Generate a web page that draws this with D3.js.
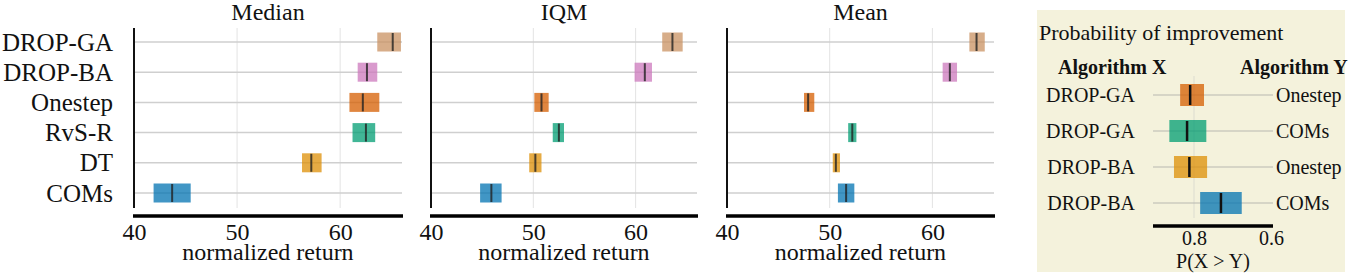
<!DOCTYPE html>
<html lang="en">
<head>
    <meta charset="UTF-8">
    <title>Aggregate metrics</title>
    <script src="https://cdn.jsdelivr.net/npm/d3@7"></script>
    <style>
        body { margin: 0; background: #fff; }
        svg text { font-family: "Liberation Serif", "Times New Roman", serif; fill: #111; }
    </style>
</head>
<body>
<script>
    // algorithms, top to bottom
    const algos = ['DROP-GA', 'DROP-BA', 'Onestep', 'RvS-R', 'DT', 'COMs']
    const algoColors = ['#ca9161', '#cc78bc', '#d55e00', '#029e73', '#de8f05', '#0173b2']
    // [low, high, point] per algorithm
    const medianVals = [[63.6, 65.9, 65.1], [61.7, 63.6, 62.6], [60.9, 63.8, 62.2], [61.2, 63.4, 62.5], [56.3, 58.2, 57.2], [41.9, 45.5, 43.7]]
    const iqmVals = [[62.6, 64.6, 63.6], [59.9, 61.6, 60.9], [50.1, 51.5, 50.8], [51.9, 53.0, 52.5], [49.6, 50.8, 50.2], [44.8, 46.9, 45.9]]
    const meanVals = [[63.6, 65.1, 64.3], [61.0, 62.4, 61.7], [47.5, 48.5, 47.9], [51.8, 52.6, 52.2], [50.3, 51.0, 50.6], [50.8, 52.4, 51.6]]
    const metricNames = ['Median', 'IQM', 'Mean']
    const xTicks = [40, 50, 60]

    // probability of improvement
    const pairX = ['DROP-GA', 'DROP-GA', 'DROP-BA', 'DROP-BA']
    const pairY = ['Onestep', 'COMs', 'Onestep', 'COMs']
    const pairColors = ['#d55e00', '#029e73', '#de8f05', '#0173b2']
    const probVals = [[0.782, 0.813, 0.795], [0.768, 0.816, 0.791], [0.774, 0.817, 0.794], [0.808, 0.862, 0.835]]
    const probTicks = [0.8, 0.9]
    const probTickLabels = ['0.8', '0.6']

    const [width, height] = [1349, 276]
    const serif = '"Liberation Serif", "Times New Roman", serif'
    const svg = d3.select('body').append('svg').attr('width', width).attr('height', height)
        .attr('font-family', serif)

    const panels = [[134, 402], [431, 697], [727, 994]]
    const y = d3.scalePoint().domain(algos).range([42, 193])
    const allVals = [medianVals, iqmVals, meanVals]

    panels.forEach((p, i) => {
        const x = d3.scaleLinear().domain([40, 66]).range(p)
        const g = svg.append('g')
        // vertical grid
        g.selectAll('line.vg').data(xTicks.slice(1)).enter().append('line')
            .attr('x1', d => x(d)).attr('x2', d => x(d))
            .attr('y1', 28).attr('y2', 208)
            .attr('stroke', '#e3e3e3').attr('stroke-width', 1)
        // row lines
        g.selectAll('line.hg').data(algos).enter().append('line')
            .attr('x1', p[0]).attr('x2', p[1])
            .attr('y1', d => y(d)).attr('y2', d => y(d))
            .attr('stroke', '#cfcfcf').attr('stroke-width', 1.5)
        const vals = allVals[i]
        g.selectAll('rect.box').data(vals).enter().append('rect')
            .attr('x', d => x(d[0])).attr('width', d => x(d[1]) - x(d[0]))
            .attr('y', (d, j) => y(algos[j]) - 9.5).attr('height', 19)
            .attr('fill', (d, j) => algoColors[j]).attr('fill-opacity', 0.75)
        g.selectAll('line.pt').data(vals).enter().append('line')
            .attr('x1', d => x(d[2])).attr('x2', d => x(d[2]))
            .attr('y1', (d, j) => y(algos[j]) - 9).attr('y2', (d, j) => y(algos[j]) + 9)
            .attr('stroke', '#222').attr('stroke-opacity', 0.8).attr('stroke-width', 2)
        // y axis line
        g.append('line').attr('x1', p[0]).attr('x2', p[0]).attr('y1', 28).attr('y2', 208)
            .attr('stroke', '#111').attr('stroke-width', 2)
        // x axis
        const ax = g.append('g').attr('transform', 'translate(0,216)')
            .call(d3.axisBottom(x).tickValues(xTicks).tickSize(0).tickPadding(7))
        ax.attr('font-family', serif)
        ax.select('.domain').attr('stroke', '#000').attr('stroke-width', 3.5)
            .attr('d', `M${p[0] - 1},0H${p[1] + 1}`)
        ax.selectAll('text').attr('font-size', 24).attr('fill', '#111')
        g.append('text').attr('x', (p[0] + p[1]) / 2).attr('y', 260)
            .attr('text-anchor', 'middle').attr('font-size', 24).text('normalized return')
        g.append('text').attr('x', (p[0] + p[1]) / 2).attr('y', 20)
            .attr('text-anchor', 'middle').attr('font-size', 24).text(metricNames[i])
    })

    // category labels
    svg.selectAll('text.cat').data(algos).enter().append('text')
        .attr('x', 113).attr('y', d => y(d)).attr('dy', '0.34em')
        .attr('text-anchor', 'end').attr('font-size', 25).text(d => d)

    // probability of improvement panel
    const pg = svg.append('g')
    pg.append('rect').attr('x', 1037).attr('y', 10).attr('width', 308).attr('height', 262)
        .attr('fill', '#f4f2dc')
    const px = d3.scaleLinear().domain([0.8, 0.9]).range([1194, 1271])
    const py = d3.scalePoint().domain(d3.range(4)).range([95, 203])
    pg.append('text').attr('x', 1039).attr('y', 40).attr('font-size', 22).text('Probability of improvement')
    pg.append('text').attr('x', 1058).attr('y', 74).attr('font-size', 20).attr('font-weight', 'bold').text('Algorithm X')
    pg.append('text').attr('x', 1240).attr('y', 74).attr('font-size', 20).attr('font-weight', 'bold').text('Algorithm Y')
    pg.append('line').attr('x1', px(0.8)).attr('x2', px(0.8)).attr('y1', 76).attr('y2', 218)
        .attr('stroke', '#dcdcd0').attr('stroke-width', 1)
    pg.selectAll('line.row').data(probVals).enter().append('line')
        .attr('x1', 1153).attr('x2', 1273)
        .attr('y1', (d, i) => py(i)).attr('y2', (d, i) => py(i))
        .attr('stroke', '#b8b8b0').attr('stroke-width', 1)
    pg.selectAll('rect.pbox').data(probVals).enter().append('rect')
        .attr('x', d => px(d[0])).attr('width', d => px(d[1]) - px(d[0]))
        .attr('y', (d, i) => py(i) - 11).attr('height', 22)
        .attr('fill', (d, i) => pairColors[i]).attr('fill-opacity', 0.75)
    pg.selectAll('line.ppt').data(probVals).enter().append('line')
        .attr('x1', d => px(d[2])).attr('x2', d => px(d[2]))
        .attr('y1', (d, i) => py(i) - 10).attr('y2', (d, i) => py(i) + 10)
        .attr('stroke', '#111').attr('stroke-width', 2.5)
    pg.selectAll('text.px').data(pairX).enter().append('text')
        .attr('x', 1135).attr('y', (d, i) => py(i)).attr('dy', '0.34em')
        .attr('text-anchor', 'end').attr('font-size', 20).text(d => d)
    pg.selectAll('text.py').data(pairY).enter().append('text')
        .attr('x', 1276).attr('y', (d, i) => py(i)).attr('dy', '0.34em')
        .attr('font-size', 20).text(d => d)
    const pax = pg.append('g').attr('transform', 'translate(0,226)')
        .call(d3.axisBottom(px).tickValues(probTicks).tickSize(0).tickPadding(5)
            .tickFormat((d, i) => probTickLabels[i]))
    pax.attr('font-family', serif)
    pax.select('.domain').attr('stroke', '#000').attr('stroke-width', 3.5).attr('d', 'M1153,0H1273')
    pax.selectAll('text').attr('font-size', 20).attr('fill', '#111')
    pg.append('text').attr('x', 1213).attr('y', 268).attr('text-anchor', 'middle')
        .attr('font-size', 20).text('P(X > Y)')
</script>
</body>
</html>
